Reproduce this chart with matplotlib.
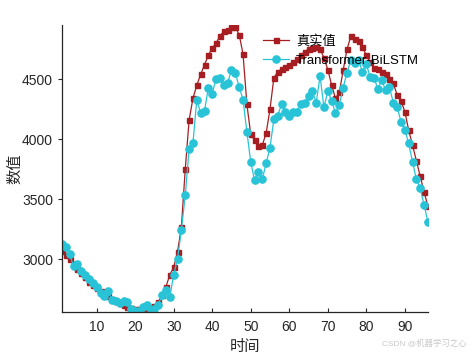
import matplotlib
matplotlib.use("Agg")
import matplotlib.pyplot as plt
import numpy as np

plt.rcParams['font.family'] = ['Liberation Sans', 'Noto Sans CJK SC', 'DejaVu Sans']

true_vals = [3070, 3030, 3000, 2960, 2920, 2880, 2850, 2810, 2780, 2760,
             2730, 2700, 2690, 2665, 2650, 2630, 2620, 2600, 2590, 2580,
             2580, 2585, 2590, 2600, 2610, 2640, 2700, 2770, 2870, 2930,
             3060, 3270, 3750, 4160, 4340, 4450, 4540, 4620, 4700, 4760,
             4800, 4860, 4900, 4910, 4935, 4935, 4870, 4710, 4290, 4040,
             3990, 3940, 3950, 4050, 4250, 4510, 4560, 4585, 4600, 4620,
             4640, 4665, 4700, 4730, 4750, 4760, 4770, 4750, 4680, 4580,
             4450, 4340, 4390, 4575, 4750, 4860, 4835, 4815, 4765, 4700,
             4640, 4595, 4585, 4560, 4540, 4500, 4465, 4370, 4320, 4230,
             4075, 3950, 3820, 3690, 3560, 3440]

pred_vals = [3125, 3100, 3040, 2940, 2960, 2900, 2870, 2830, 2800, 2770,
             2720, 2690, 2735, 2660, 2650, 2630, 2650, 2640, 2580, 2565,
             2570, 2600, 2615, 2575, 2580, 2620, 2700, 2740, 2685, 2870,
             3000, 3245, 3530, 3920, 3970, 4330, 4215, 4235, 4430, 4380,
             4505, 4510, 4450, 4470, 4575, 4550, 4435, 4330, 4060, 3810,
             3655, 3730, 3665, 3800, 3930, 4165, 4195, 4290, 4230, 4190,
             4230, 4230, 4290, 4300, 4360, 4400, 4305, 4525, 4265, 4400,
             4320, 4215, 4285, 4430, 4555, 4660, 4635, 4660, 4560, 4625,
             4520, 4510, 4420, 4490, 4410, 4435, 4305, 4270, 4145, 4080,
             3965, 3810, 3665, 3590, 3450, 3310]

series_labels = ['真实值', 'Transformer-BiLSTM']
x_ticks = [10, 20, 30, 40, 50, 60, 70, 80, 90]
y_ticks = [3000, 3500, 4000, 4500]

t = np.arange(1, len(true_vals) + 1)

fig = plt.figure(figsize=(4.74, 3.55), dpi=100)
ax = fig.add_axes([0.1308, 0.121, 0.772, 0.808])

ax.plot(t, true_vals, color='#A61E22', lw=0.9, marker='s', ms=3.6,
        mfc='#A61E22', mec='#A61E22', label=series_labels[0])
ax.plot(t, pred_vals, color='#28C3D7', lw=0.9, marker='o', ms=5.2,
        mfc='#28C3D7', mec='#28C3D7', label=series_labels[1])

ax.set_xlim(1, 96)
ax.set_ylim(2558, 4950)
ax.set_xticks(x_ticks)
ax.set_yticks(y_ticks)
ax.spines['top'].set_visible(False)
ax.spines['right'].set_visible(False)
for s in ['left', 'bottom']:
    ax.spines[s].set_color('#262626')
    ax.spines[s].set_linewidth(0.9)
ax.tick_params(axis='x', direction='in', length=3, labelsize=10, colors='#262626', pad=6)
ax.tick_params(axis='y', direction='out', length=3, labelsize=10, colors='#262626')

ax.set_xlabel('时间', fontsize=11, color='#262626', labelpad=4)
ax.set_ylabel('数值', fontsize=11, color='#262626', labelpad=0)

leg = ax.legend(loc='upper left', bbox_to_anchor=(0.535, 0.985), frameon=False,
                fontsize=9.5, handlelength=2.0, handletextpad=0.5,
                labelspacing=0.5, borderaxespad=0)

fig.text(0.985, 0.02, 'CSDN @机器学习之心', ha='right', va='bottom',
         fontsize=6, color='#C8C8C8')

fig.savefig('out.png', dpi=100)
